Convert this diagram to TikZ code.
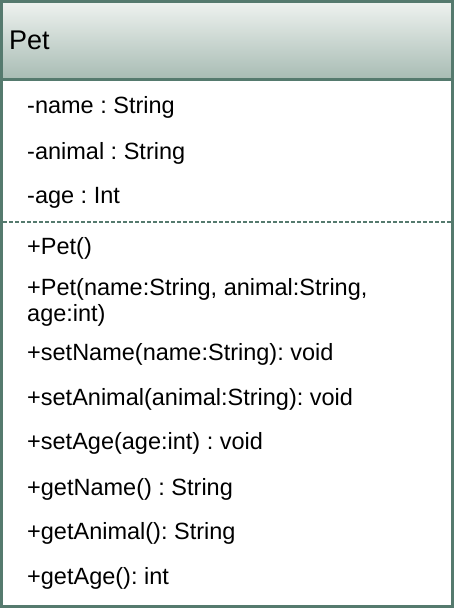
\documentclass[tikz,border=0pt]{standalone}
\usepackage{fontspec}
\setmainfont{Liberation Sans}
\frenchspacing
\definecolor{petframe}{HTML}{557A6E}
\definecolor{pettop}{HTML}{EEF2EF}
\definecolor{petbottom}{HTML}{A7BBB3}
\begin{document}
\begin{tikzpicture}[x=1pt,y=1pt,member/.style={anchor=west,inner sep=0pt,font=\fontsize{23.5}{26}\selectfont},title/.style={anchor=west,inner sep=0pt,font=\fontsize{27}{30}\selectfont}]
    \useasboundingbox (0,0) rectangle (454,608);
    \fill[white] (0,0) rectangle (454,608);
    \shade[top color=pettop,bottom color=petbottom] (2,606) rectangle (452,528);
    \draw[petframe,line width=3] (1.5,1.5) rectangle (452.5,606.5);
    \draw[petframe,line width=3] (1.5,528.5) -- (452.5,528.5);
    \draw[petframe,dashed,line width=1.2,dash pattern=on 4pt off 2pt] (3,386) -- (451,386);

    \node[title] at (9,568) (cls) {Pet};

    \node[member] at (27,501) (name) {-name : String};
    \node[member] at (27,455) (animal) {-animal : String};
    \node[member] at (27,410) (age) {-age : Int};

    \node[member] at (27,360) (ctor) {+Pet()};
    \node[member,align=left,font=\fontsize{23.5}{26}\selectfont] at (27,306) (ctorfull) {+Pet(name:String, animal:String,\\age:int)};
    \node[member] at (27,254) (setname) {+setName(name:String): void};
    \node[member] at (27,209) (setanimal) {+setAnimal(animal:String): void};
    \node[member] at (27,165) (setage) {+setAge(age:int) : void};
    \node[member] at (27,119) (getname) {+getName() : String};
    \node[member] at (27,75) (getanimal) {+getAnimal(): String};
    \node[member] at (27,30) (getage) {+getAge(): int};
\end{tikzpicture}
\end{document}
